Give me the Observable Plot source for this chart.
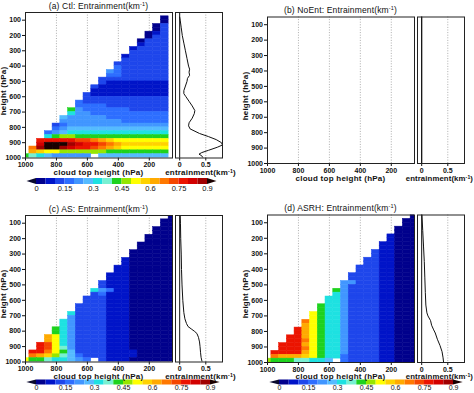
<!DOCTYPE html>
<html><head><meta charset="utf-8">
<script src="https://cdn.jsdelivr.net/npm/d3@7"></script>
<script src="https://cdn.jsdelivr.net/npm/@observablehq/plot@0.6"></script>
<style>
body{margin:0;background:#fff}
#fig{position:relative;width:474px;height:393px;overflow:hidden;background:#fff;font-family:"Liberation Sans",Arial,sans-serif}
#fig svg{position:absolute;left:0;top:0}
.lbl{position:absolute;white-space:nowrap;transform:translate(-50%,-50%);line-height:1;color:#111}
.lbl sup{font-size:65%;vertical-align:0.45em;line-height:0}
</style></head><body><div id="fig"></div>
<script>
const W = 474, H = 393;
const FONT = '"Liberation Sans", Arial, sans-serif';

// grid: cloud-top columns and 25 hPa layers (tops)
const cloudTop = [1000,950,900,850,800,750,700,650,600,550,500,450,400,350,300,250,200,150,100,50];
const layerTop = [50,75,100,125,150,175,200,225,250,275,300,325,350,375,400,425,450,475,500,525,550,575,600,625,650,675,700,725,750,775,800,825,850,875,900,925,950,975];
const cellHalfWidth = 25, layerDepth = 25;

// colour bins (0.05 km^-1 wide); codes index into binMid
const binCodes = "0123456789abcdefghi";
const binMid = [0.025,0.075,0.125,0.175,0.225,0.275,0.325,0.375,0.425,0.475,0.525,0.575,0.625,0.675,0.725,0.775,0.825,0.875,0.925];
const thresholds = [0,0.05,0.1,0.15,0.2,0.25,0.3,0.35,0.4,0.45,0.5,0.55,0.6,0.65,0.7,0.75,0.8,0.85,0.9];
const binColors = ["#0a0a2e","#00008c","#0014c8","#1e46eb","#2d6eff","#4196ff","#55bbff","#1ee1e1","#78f0d2","#1ed21e","#96e600","#ffff00","#ffd200","#ffaa00","#ff7800","#f54600","#eb1400","#d20000","#a00000","#1a0000"];
const barLabels = [0,0.15,0.3,0.45,0.6,0.75,0.9];

const xTicks = [1000,800,600,400,200];
const gridCT = [800,600,400,200];
const yTicks = [100,200,300,400,500,600,700,800,900,1000];
const entTicks = [0,0.5];

// (a) Ctl entrainment (rows = layers top->bottom, cols = cloud top 1000 -> 50)
const ctlGrid = [
"....................",
"..................0.",
"..................0.",
".................02.",
".................02.",
"................012.",
"................022.",
"...............0222.",
"...............1222.",
"..............12222.",
"..............22222.",
".............122222.",
".............222222.",
"............2222222.",
"............3222222.",
"...........43222222.",
"...........33222222.",
"..........222222222.",
"..........211111111.",
".........2111111111.",
".........1111111111.",
"........21111111111.",
"........22222222222.",
".......322222222222.",
".......333322222222.",
"......8433333322222.",
"......6443333333333.",
".....54444433333333.",
".....44444444333333.",
"....234444444444444.",
"....345555555555555.",
"...3456666666666666.",
"...6899888888888888.",
"..fffffeedcbaaaaaaa.",
"..giiihgffedcbbbbbb.",
".dhiihgffedcbaaaaaa.",
".cbaa99999988888888.",
"876544444.555555555."
];

// (c) AS
const asGrid = [
"...................0",
"..................00",
"..................00",
".................000",
".................000",
"................0000",
"................0000",
"...............00000",
"...............00000",
"..............000000",
"..............000000",
".............1000000",
".............1000000",
"............11000000",
"............11000000",
"...........111000000",
"...........111000000",
"..........2111000000",
"..........2111000000",
".........64311000000",
".........23111000000",
"........222111000000",
"........222111000000",
".......2222111000000",
".......2222111000000",
"......62222111000000",
"......42222111000000",
".....642222111000000",
".....642222111000000",
"....8642222111000000",
"....8642222111000000",
"...ca642222111000000",
"...ca642222111000000",
"..fea642222111000000",
"..fea742222111000000",
".ffda852222111100000",
".dcb9753222111100000",
"a88766543.2111000000"
];

// (d) ASRH
const asrhGrid = [
"...................0",
"..................00",
"..................00",
".................000",
".................000",
"................1000",
"................1000",
"...............11000",
"...............11000",
"..............211000",
"..............211000",
".............2211000",
".............2211000",
"............22211000",
"............22211000",
"...........222211000",
"...........222211000",
"..........4422211000",
"..........4222211000",
".........84222211000",
".........64222211000",
"........664222211000",
"........664222211000",
".......8664222211000",
".......8664222211000",
"......a8664222211000",
"......a8664222211000",
".....da8664222211000",
".....ca8664222211000",
"....fca8664222211000",
"....fca8664222211000",
"...ffca8664222211000",
"...ffda8664222211000",
"..fffca8664222211000",
"..fffda8664222211000",
".ffffca8664222211000",
".dcccba8663222211000",
"988877665.3222211000"
];

// side profiles: [pressure hPa, entrainment km^-1]
const ctlProfile = [[80,0.0],[100,0.01],[150,0.03],[200,0.05],[250,0.08],[300,0.11],[350,0.14],[400,0.17],[420,0.19],[440,0.18],[460,0.19],[480,0.15],[500,0.14],[530,0.11],[560,0.08],[580,0.08],[600,0.12],[630,0.18],[660,0.24],[690,0.29],[710,0.28],[740,0.24],[770,0.18],[790,0.17],[810,0.20],[840,0.38],[860,0.55],[880,0.70],[900,0.80],[915,0.82],[930,0.72],[950,0.55],[965,0.42],[975,0.37],[985,0.42],[1000,0.45]];
const noEntProfile = [[50,0],[1000,0]];
const asProfile = [[50,0.01],[100,0.015],[200,0.02],[300,0.03],[400,0.035],[500,0.045],[600,0.06],[680,0.08],[720,0.10],[750,0.13],[770,0.16],[785,0.22],[800,0.28],[815,0.33],[840,0.36],[870,0.38],[900,0.39],[940,0.40],[970,0.41],[1000,0.43]];
const asrhProfile = [[50,0.005],[150,0.02],[250,0.035],[350,0.05],[450,0.06],[550,0.07],[630,0.08],[680,0.10],[700,0.12],[730,0.17],[760,0.19],[790,0.23],[810,0.26],[850,0.30],[890,0.35],[930,0.39],[970,0.41],[1000,0.42]];

const fig = document.getElementById("fig");
const colorScale = {type: "threshold", domain: thresholds, range: binColors};

function cellsFrom(grid) {
  const cells = [];
  grid.forEach((row, r) => {
    [...row].forEach((ch, i) => {
      if (ch === ".") return;
      cells.push({x1: cloudTop[i] + cellHalfWidth, x2: cloudTop[i] - cellHalfWidth,
                  y1: layerTop[r], y2: layerTop[r] + layerDepth, v: binMid[binCodes.indexOf(ch)]});
    });
  });
  return cells;
}

function baseStyle(size, weight) {
  return {background: "transparent", fontFamily: FONT, fontSize: size, fontWeight: weight, color: "#111", overflow: "visible"};
}

function mainPanel(grid, b) {
  const cells = grid ? cellsFrom(grid) : [];
  fig.appendChild(Plot.plot({
    width: W, height: H,
    marginLeft: b.l, marginRight: W - b.r, marginTop: b.t, marginBottom: H - b.b,
    style: baseStyle("7px", "bold"),
    x: {domain: [1000, 50], ticks: xTicks, tickSize: 3, tickPadding: 1.5, tickFormat: d => String(d), label: null},
    y: {domain: [50, 1000], reverse: true, ticks: yTicks, tickSize: 3, tickPadding: 1.5, tickFormat: d => String(d), label: null},
    color: colorScale,
    marks: [
      Plot.ruleX(gridCT, {stroke: "#8a8a8a", strokeWidth: 0.7, strokeDasharray: "1,1.6"}),
      Plot.rect(cells, {x1: "x1", x2: "x2", y1: "y1", y2: "y2", fill: "v", stroke: "v", strokeWidth: 0.5, clip: true}),
      Plot.frame({stroke: "#222", strokeWidth: 1})
    ]
  }));
}

function profilePanel(profile, b) {
  fig.appendChild(Plot.plot({
    width: W, height: H,
    marginLeft: b.l, marginRight: W - b.r, marginTop: b.t, marginBottom: H - b.b,
    style: baseStyle("7px", "bold"),
    x: {domain: [-0.08, 0.82], ticks: entTicks, tickSize: 3, tickPadding: 1.5, tickFormat: d => String(d), label: null},
    y: {domain: [50, 1000], reverse: true, axis: null},
    marks: [
      Plot.ruleX([0.5], {stroke: "#8a8a8a", strokeWidth: 0.7, strokeDasharray: "1,1.6"}),
      Plot.ruleX([0], {stroke: "#111", strokeWidth: 1}),
      Plot.line(profile, {x: d => d[1], y: d => d[0], stroke: "#111", strokeWidth: 1, clip: true}),
      Plot.frame({stroke: "#222", strokeWidth: 1})
    ]
  }));
}

function colorbar(b) {
  const bins = thresholds.slice(0, -1).map((lo, k) => ({lo, hi: thresholds[k + 1], v: binMid[k]}));
  const under = [{x: -0.05, y1: 0.5, y2: 0.5, v: -0.025}, {x: 0, y1: 0, y2: 1, v: -0.025}];
  const over = [{x: 0.9, y1: 0, y2: 1, v: 0.925}, {x: 0.95, y1: 0.5, y2: 0.5, v: 0.925}];
  fig.appendChild(Plot.plot({
    width: W, height: H,
    marginLeft: b.l, marginRight: W - b.r, marginTop: b.t, marginBottom: H - b.b,
    style: baseStyle(b.fs + "px", "normal"),
    x: {domain: [-0.05, 0.95], ticks: barLabels, tickSize: 0, tickPadding: b.pad, tickFormat: d => String(d), label: null},
    y: {domain: [0, 1], axis: null},
    color: colorScale,
    marks: [
      Plot.rect(bins, {x1: "lo", x2: "hi", y1: 0, y2: 1, fill: "v"}),
      Plot.areaY(under, {x: "x", y1: "y1", y2: "y2", fill: "v"}),
      Plot.areaY(over, {x: "x", y1: "y1", y2: "y2", fill: "v"})
    ]
  }));
}

function label(html, x, y, size, weight, opts = {}) {
  const d = document.createElement("div");
  d.className = "lbl";
  d.innerHTML = html;
  d.style.left = x + "px";
  d.style.top = y + "px";
  d.style.fontSize = size + "px";
  d.style.fontWeight = weight;
  if (opts.spacing) d.style.letterSpacing = opts.spacing + "px";
  if (opts.rotate) d.style.transform = "translate(-50%,-50%) rotate(-90deg)";
  if (opts.right) d.style.transform = "translate(-100%,-50%)";
  fig.appendChild(d);
}

const panels = [
  {title: "(a) Ctl: Entrainment(km<sup>-1</sup>)", grid: ctlGrid, profile: ctlProfile,
   main: {l: 25, r: 172, t: 12, b: 157.5}, prof: {l: 175, r: 222}, bar: {l: 26.5, r: 216.5, t: 178, b: 184, fs: 7.5, pad: 1.5}, xlab: 173, edge: false},
  {title: "(b) NoEnt: Entrainment(km<sup>-1</sup>)", grid: null, profile: noEntProfile,
   main: {l: 267, r: 414, t: 16.5, b: 163}, prof: {l: 417, r: 464}, bar: null, xlab: 179, edge: true},
  {title: "(c) AS: Entrainment(km<sup>-1</sup>)", grid: asGrid, profile: asProfile,
   main: {l: 25, r: 172, t: 215, b: 361.5}, prof: {l: 175, r: 222}, bar: {l: 26.3, r: 219.7, t: 379.5, b: 384.5, fs: 7, pad: 0.5}, xlab: 376.5, edge: false},
  {title: "(d) ASRH: Entrainment(km<sup>-1</sup>)", grid: asrhGrid, profile: asrhProfile,
   main: {l: 267, r: 414, t: 214.5, b: 362}, prof: {l: 417, r: 464}, bar: {l: 269.3, r: 462.7, t: 379.5, b: 384.5, fs: 7, pad: 0.5}, xlab: 376.5, edge: true}
];

for (const p of panels) {
  mainPanel(p.grid, p.main);
  profilePanel(p.profile, {l: p.prof.l, r: p.prof.r, t: p.main.t, b: p.main.b});
  if (p.bar) colorbar(p.bar);
  const cx = (p.main.l + p.main.r) / 2;
  const cy = (p.main.t + p.main.b) / 2;
  label(p.title, cx, p.main.t - 6.5, 8.5, "normal", {spacing: 0.15});
  label("height (hPa)", p.main.l - 21, cy + 6, 8, "bold", {rotate: true, spacing: 0.2});
  label("cloud top height (hPa)", cx, p.xlab, 8, "bold", {spacing: 0.25});
  if (p.edge) label("entrainment(km<sup>-1</sup>)", 473, p.xlab, 7.8, "bold", {right: true, spacing: 0.1});
  else label("entrainment(km<sup>-1</sup>)", (p.prof.l + p.prof.r) / 2 + 2, p.xlab, 8, "bold", {spacing: 0.2});
}
</script></body></html>
